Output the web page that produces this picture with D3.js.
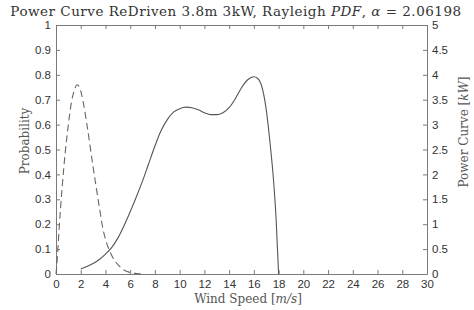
<!DOCTYPE html>
<html><head><meta charset="utf-8">
<script src="https://cdn.jsdelivr.net/npm/d3@7"></script>
<style>body{margin:0;background:#fff}svg{display:block}</style>
</head><body>
<script>
// Data
const windSpeed = [0,0.1,0.25,0.5,0.75,1.0,1.25,1.5,1.7,1.9,2.2,2.5,3.0,3.5,3.8,4.0,4.4,4.8,5.2,5.6,6.0,6.5,7];
const probability = [0,0.06,0.18,0.35,0.49,0.6,0.69,0.74,0.76,0.75,0.69,0.6,0.43,0.27,0.18,0.14,0.085,0.05,0.028,0.013,0.006,0.002,0];
const powerWind = [2,2.5,3,3.5,4,4.5,5,5.5,6,6.5,7,7.5,8,8.5,9,9.5,10,10.5,11,11.5,12,12.5,13,13.5,14,14.5,15,15.5,16,16.3,16.6,17,17.3,17.6,17.8,18];
const powerKW = [0.1,0.15,0.21,0.29,0.4,0.53,0.72,0.97,1.25,1.55,1.87,2.22,2.57,2.88,3.1,3.25,3.32,3.35,3.34,3.3,3.24,3.2,3.2,3.24,3.34,3.52,3.74,3.9,3.96,3.93,3.8,3.3,2.65,1.85,1.1,0];
const xTicks = d3.range(0,31,2);
const yLeftTicks = d3.range(0,11).map(d=>d/10);
const yRightTicks = d3.range(0,11).map(d=>d/2);

const W=474,H=310;
const L=56,R=427,T=25,B=274;
const svg=d3.select("body").append("svg").attr("width",W).attr("height",H);
const x=d3.scaleLinear().domain([0,30]).range([L,R]);
const yL=d3.scaleLinear().domain([0,1]).range([B,T]);
const yR=d3.scaleLinear().domain([0,5]).range([B,T]);
const axisCol="#7a7a7a", txtCol="#333";
const tickFont="Liberation Sans, Arial, sans-serif";
const serif="DejaVu Serif, serif";

function style(g){
  g.select(".domain").attr("stroke",axisCol);
  g.selectAll(".tick line").attr("stroke",axisCol);
  g.selectAll(".tick text").attr("fill",txtCol).attr("font-family",tickFont).attr("font-size",11.5);
}
// bottom
svg.append("g").attr("transform",`translate(0,${B})`)
  .call(d3.axisBottom(x).tickValues(xTicks).tickFormat(d3.format("d")).tickSizeInner(-4).tickSizeOuter(0).tickPadding(6))
  .call(style);
// top
svg.append("g").attr("transform",`translate(0,${T})`)
  .call(d3.axisTop(x).tickValues(xTicks).tickFormat("").tickSizeInner(-4).tickSizeOuter(0))
  .call(style);
// left
svg.append("g").attr("transform",`translate(${L},0)`)
  .call(d3.axisLeft(yL).tickValues(yLeftTicks).tickFormat(d=>d===0?"0":d===1?"1":d3.format(".1f")(d)).tickSizeInner(-4).tickSizeOuter(0).tickPadding(5))
  .call(style);
// right
svg.append("g").attr("transform",`translate(${R},0)`)
  .call(d3.axisRight(yR).tickValues(yRightTicks).tickFormat(d=>Number.isInteger(d)?String(d):d3.format(".1f")(d)).tickSizeInner(-4).tickSizeOuter(0).tickPadding(5))
  .call(style);

// power curve
svg.append("path").datum(powerWind.map((w,i)=>[w,powerKW[i]]))
  .attr("d",d3.line().x(d=>x(d[0])).y(d=>yR(d[1])).curve(d3.curveMonotoneX))
  .attr("fill","none").attr("stroke","#555").attr("stroke-width",1.1);
// probability
svg.append("path").datum(windSpeed.map((w,i)=>[w,probability[i]]))
  .attr("d",d3.line().x(d=>x(d[0])).y(d=>yL(d[1])).curve(d3.curveMonotoneX))
  .attr("fill","none").attr("stroke","#666").attr("stroke-width",1.1).attr("stroke-dasharray","7,4");

// title
const title=svg.append("text").attr("x",236).attr("y",16).attr("text-anchor","middle")
  .attr("font-family",serif).attr("font-size",13.5).attr("letter-spacing",0.5).attr("fill",txtCol);
title.append("tspan").text("Power Curve ReDriven 3.8m 3kW, Rayleigh ");
title.append("tspan").attr("font-style","italic").text("PDF");
title.append("tspan").text(", ");
title.append("tspan").attr("font-style","italic").text("α");
title.append("tspan").text(" = 2.06198");

// x label
const xl=svg.append("text").attr("x",248).attr("y",303).attr("text-anchor","middle")
  .attr("font-family",serif).attr("font-size",12).attr("fill","#555");
xl.append("tspan").text("Wind Speed [");
xl.append("tspan").attr("font-style","italic").text("m/s");
xl.append("tspan").text("]");
// left label
svg.append("text").attr("transform",`translate(29,141) rotate(-90)`).attr("text-anchor","middle")
  .attr("font-family",serif).attr("font-size",12).attr("fill","#555").text("Probability");
// right label
const rl=svg.append("text").attr("transform",`translate(468,132) rotate(-90)`).attr("text-anchor","middle")
  .attr("font-family",serif).attr("font-size",12).attr("fill","#555");
rl.append("tspan").text("Power Curve [");
rl.append("tspan").attr("font-style","italic").text("kW");
rl.append("tspan").text("]");
</script>
</body></html>
